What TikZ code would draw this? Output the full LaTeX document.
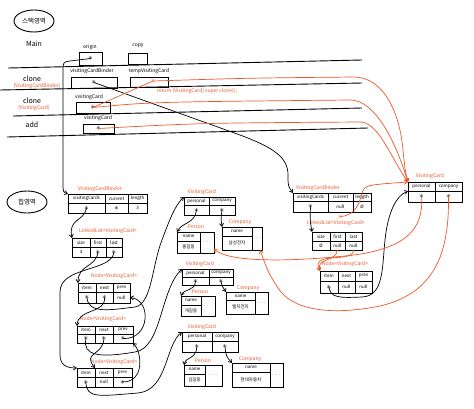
\documentclass[tikz,border=0pt]{standalone}
\usepackage{fontspec}
\setmainfont{Noto Sans CJK KR}
\usetikzlibrary{arrows.meta,shapes.geometric}
\definecolor{orc}{RGB}{236,88,40}
\newcommand\mkcell[6]{\node[cell,minimum width={#4pt-#2pt},minimum height={#5pt-#3pt}] (#1) at ({(#2+#4)/2},{(#3+#5)/2}) {#6};}
\newcommand\pt{{\fontsize{9}{9}\selectfont$\ast$}}
\tikzset{
  cell/.style={draw,line width=0.8pt,inner sep=0pt,outer sep=0pt,font=\fontsize{4.5}{5}\selectfont},
  olab/.style={text=orc,font=\fontsize{5}{6}\selectfont,inner sep=0pt},
  blab/.style={font=\fontsize{5}{6}\selectfont,inner sep=0pt},
  big/.style={font=\fontsize{7}{8}\selectfont,inner sep=0pt},
  xmark/.style={text=orc,font=\fontsize{7}{7}\selectfont,inner sep=0pt},
  region/.style={draw,ellipse,line width=0.9pt,inner sep=0pt,font=\fontsize{6.5}{7}\selectfont},
  frameline/.style={line width=0.9pt},
  ptr/.style={-{Straight Barb[length=3pt,width=4pt]},line width=0.7pt},
  optr/.style={ptr,draw=orc},
}
\begin{document}
\begin{tikzpicture}[x=1pt,y=-1pt]
\useasboundingbox (0,0) rectangle (474,408);
\fill[white] (0,0) rectangle (474,408);

% ---------- stack area ----------
\node[region,minimum width=40pt,minimum height=22pt] (stk) at (34,21) {스택영역};
\node[big] (tmain) at (34,44) {Main};
\coordinate (l1a) at (8,68);  \coordinate (l1b) at (362,60);
\coordinate (l2a) at (0,90);  \coordinate (l2b) at (362,83);
\coordinate (l3a) at (13,116); \coordinate (l3b) at (362,108);
\coordinate (l4a) at (7,137); \coordinate (l4b) at (368,128);
\draw[frameline] (l1a) -- (l1b);
\draw[frameline] (l2a) -- (l2b);
\draw[frameline] (l3a) -- (l3b);
\draw[frameline] (l4a) -- (l4b);

\node[big] (tclone1) at (32,79) {clone};
\node[olab] (tcb) at (37,86.5) {(VisitingCardBinder)};
\node[big] (tclone2) at (32,101) {clone};
\node[olab] (tcv) at (34,108.5) {(VisitingCard)};
\node[big] (tadd) at (32,125) {add};

\node[blab] (torig) at (90,47) {origin};
\node[blab] (tcopy) at (138,46) {copy};
\mkcell{sorig}{79}{52}{102}{65}{\pt}
\mkcell{scopy}{128}{53}{147}{64}{}
\node[blab] (tscb) at (92,71) {visitingCardBinder};
\node[blab] (tstv) at (149,71) {tempVisitingCard};
\mkcell{scb}{71}{77}{117}{88}{\pt}
\mkcell{stv}{130}{77}{168}{87}{}
\node[xmark] (stx) at (153,81) {$\times$};
\node[olab] (tret) at (197,91) {return (VisitingCard) super.clone();};
\node[blab] (tscv) at (89,97) {visitingCard};
\mkcell{scv}{76}{102}{110}{113}{\pt}
\node[blab] (tsav) at (98,118) {visitingCard};
\mkcell{sav}{83}{124}{114}{133}{\pt}

% ---------- heap area ----------
\node[region,minimum width=40pt,minimum height=22pt] (heap) at (27,202) {힙영역};

% binder 1
\node[olab] (b1lab) at (100,189) {VisitingCardBinder};
\mkcell{b1v}{68}{194}{105}{203}{visitingCards}
\mkcell{b1c}{105}{194}{128}{203}{current}
\mkcell{b1l}{128}{194}{147}{203}{length}
\mkcell{b1vv}{68}{203}{105}{213}{\pt}
\mkcell{b1cv}{105}{203}{128}{213}{\pt}
\mkcell{b1lv}{128}{203}{147}{213}{3}

% linked list 1
\node[olab] (l1lab) at (108,231) {LinkedList<VisitingCard>};
\mkcell{l1s}{72}{238}{90}{247}{size}
\mkcell{l1f}{90}{238}{106}{247}{first}
\mkcell{l1l}{106}{238}{122}{247}{last}
\mkcell{l1sv}{72}{247}{90}{257}{3}
\mkcell{l1fv}{90}{247}{106}{257}{\pt}
\mkcell{l1lv}{106}{247}{122}{257}{\pt}

% node 1
\node[olab] (n1lab) at (114,276) {Node<VisitingCard>};
\mkcell{n1i}{78}{283}{96}{292}{item}
\mkcell{n1n}{96}{283}{113}{292}{next}
\mkcell{n1p}{113}{283}{130}{292}{prev}
\mkcell{n1iv}{78}{292}{96}{303}{\pt}
\mkcell{n1nv}{96}{292}{113}{303}{\pt}
\mkcell{n1pv}{113}{292}{130}{303}{null}

% node 2
\node[olab] (n2lab) at (103,319) {Node<VisitingCard>};
\mkcell{n2i}{77}{326}{95}{334}{item}
\mkcell{n2n}{95}{326}{113}{334}{next}
\mkcell{n2p}{113}{326}{133}{334}{prev}
\mkcell{n2iv}{77}{334}{95}{343}{\pt}
\mkcell{n2nv}{95}{334}{113}{343}{\pt}
\mkcell{n2pv}{113}{334}{133}{343}{\pt}

% node 3
\node[olab] (n3lab) at (114,362) {Node<VisitingCard>};
\mkcell{n3i}{77}{368}{95}{377}{item}
\mkcell{n3n}{95}{368}{113}{377}{next}
\mkcell{n3p}{113}{368}{132}{377}{prev}
\mkcell{n3iv}{77}{377}{95}{387}{\pt}
\mkcell{n3nv}{95}{377}{113}{387}{null}
\mkcell{n3pv}{113}{377}{132}{387}{\pt}

% visiting card 1
\node[olab] (vc1lab) at (202,192) {VisitingCard};
\mkcell{vc1p}{184}{197}{209}{205}{personal}
\mkcell{vc1c}{209}{197}{235}{205}{company}
\mkcell{vc1pv}{184}{205}{209}{215}{\pt}
\mkcell{vc1cv}{209}{205}{235}{215}{\pt}
\node[olab] (p1lab) at (196,227) {Person};
\mkcell{p1n}{177}{232}{200}{241}{name}
\mkcell{p1v}{177}{241}{200}{253}{홍길동}
\mkcell{p1d}{200}{232}{214}{253}{$\cdots$}
\node[olab] (c1lab) at (240,222) {Company};
\mkcell{c1n}{222}{227}{252}{236}{name}
\mkcell{c1v}{222}{236}{252}{250}{삼성전자}
\mkcell{c1d}{252}{227}{262}{250}{$\cdots$}

% visiting card 2
\node[olab] (vc2lab) at (200,264) {VisitingCard};
\mkcell{vc2p}{182}{269}{209}{277}{personal}
\mkcell{vc2c}{209}{269}{233}{277}{company}
\mkcell{vc2pv}{182}{277}{209}{285}{\pt}
\mkcell{vc2cv}{209}{277}{233}{285}{\pt}
\node[olab] (p2lab) at (200,292) {Person};
\mkcell{p2n}{181}{296}{201}{305}{name}
\mkcell{p2v}{181}{305}{201}{316}{개길동}
\mkcell{p2d}{201}{296}{215}{316}{$\cdots$}
\node[olab] (c2lab) at (248,288) {Company};
\mkcell{c2n}{226}{292}{255}{300}{name}
\mkcell{c2v}{226}{300}{255}{314}{엘지전자}
\mkcell{c2d}{255}{292}{268}{314}{$\cdots$}

% visiting card 3
\node[olab] (vc3lab) at (202,327) {VisitingCard};
\mkcell{vc3p}{182}{332}{212}{341}{personal}
\mkcell{vc3c}{212}{332}{238}{341}{company}
\mkcell{vc3pv}{182}{341}{212}{352}{\pt}
\mkcell{vc3cv}{212}{341}{238}{352}{\pt}
\node[olab] (p3lab) at (203,361) {Person};
\mkcell{p3n}{184}{365}{205}{374}{name}
\mkcell{p3v}{184}{374}{205}{386}{김길동}
\mkcell{p3d}{205}{365}{222}{386}{$\cdots$}
\node[olab] (c3lab) at (250,359) {Company};
\mkcell{c3n}{232}{363}{270}{372}{name}
\mkcell{c3v}{232}{372}{270}{387}{현대자동차}
\mkcell{c3d}{270}{363}{283}{387}{$\cdots$}

% binder 2
\node[olab] (b2lab) at (318,188) {VisitingCardBinder};
\mkcell{b2v}{293}{193}{328}{201}{visitingCards}
\mkcell{b2c}{328}{193}{353}{201}{current}
\mkcell{b2l}{353}{193}{371}{201}{length}
\mkcell{b2vv}{293}{201}{328}{212}{\pt}
\mkcell{b2cv}{328}{201}{353}{212}{null}
\mkcell{b2lv}{353}{201}{371}{212}{Ø}
\node[xmark] (b2x) at (340,216.5) {$\times$};

% linked list 2
\node[olab] (l2lab) at (336,223) {LinkedList<VisitingCard>};
\mkcell{l2s}{312}{232}{330}{241}{size}
\mkcell{l2f}{330}{232}{345}{241}{first}
\mkcell{l2l}{345}{232}{362}{241}{last}
\mkcell{l2sv}{312}{241}{330}{250}{Ø}
\mkcell{l2fv}{330}{241}{345}{250}{null}
\mkcell{l2lv}{345}{241}{362}{250}{null}

% node R
\node[olab] (nrlab) at (345,264) {Node<VisitingCard>};
\mkcell{nri}{320}{271}{338}{281}{item}
\mkcell{nrn}{338}{271}{355}{281}{next}
\mkcell{nrp}{355}{271}{372}{281}{prev}
\mkcell{nriv}{320}{281}{338}{293}{\pt}
\mkcell{nrnv}{338}{281}{355}{293}{null}
\mkcell{nrpv}{355}{281}{372}{293}{null}

% shared visiting card
\node[olab] (vcslab) at (430,176) {VisitingCard};
\mkcell{vcsp}{408}{182}{435}{191}{personal}
\mkcell{vcsc}{435}{182}{462}{191}{company}
\mkcell{vcspv}{408}{191}{435}{202}{\pt}
\mkcell{vcscv}{435}{191}{462}{202}{\pt}

% ---------- black connectors ----------
\draw[ptr] (sorig.center) -- (70,61) .. controls (63,62) .. (63,72) -- (63,182) .. controls (63,192) .. (b1v.north west);
\draw[ptr] (scb.center) -- (240,135) .. controls (275,148) and (288,158) .. (288,175) .. controls (288,186) .. (b2v.north west);
\draw[ptr] (b1vv.center) .. controls (84,222) and (68,218) .. (l1s.north west);
\draw[ptr] (l1fv.center) .. controls (96,268) and (78,264) .. (n1i.north west);
\draw[ptr] (l1lv.center) .. controls (112,272) and (60,266) .. (60,292) -- (60,355) .. controls (60,366) and (68,368) .. (n3i.north west);
\draw[ptr] (n1iv.center) .. controls (88,314) and (110,310) .. (135,307) .. controls (152,304) and (152,265) .. (162,240) .. controls (170,218) and (176,204) .. (vc1p.north west);
\draw[ptr] (n1nv.center) .. controls (106,314) and (78,308) .. (n2i.north west);
\draw[ptr] (n2pv.center) .. controls (150,340) and (152,300) .. (n1pv.east);
\draw[ptr] (n2iv.center) .. controls (82,356) and (100,358) .. (135,352) .. controls (162,348) and (160,290) .. (vc2p.north west);
\draw[ptr] (n2nv.center) .. controls (103,356) and (82,352) .. (n3n.north west);
\draw[ptr] (n3pv.center) .. controls (145,382) and (142,352) .. (n2pv.south east);
\draw[ptr] (n3iv.center) .. controls (86,399) and (100,396) .. (138,393) .. controls (168,390) and (165,345) .. (vc3p.north west);
\draw[ptr] (vc1pv.center) .. controls (195,224) and (182,222) .. (p1n.north west);
\draw[ptr] (vc1cv.center) .. controls (221,219) .. (c1n.north west);
\draw[ptr] (vc2pv.center) .. controls (195,292) and (184,288) .. (p2n.north west);
\draw[ptr] (vc2cv.center) .. controls (222,286) .. (c2n.north west);
\draw[ptr] (vc3pv.center) .. controls (196,360) and (186,356) .. (p3n.north west);
\draw[ptr] (vc3cv.center) .. controls (226,356) .. (c3n.north west);
\draw[ptr] (b2vv.center) .. controls (310,220) .. (l2s.north west);
\draw[ptr] (nriv.center) .. controls (330,298) and (340,298) .. (362,297) .. controls (384,296) and (382,268) .. (385,240) .. controls (388,212) and (396,196) .. (vcsp.south west);

% ---------- orange connectors ----------
\draw[orc,line width=0.7pt] (stx.center) -- (scv.center);
\draw[optr] (stx.center) .. controls (250,78) .. (355,77) .. controls (385,78) and (400,115) .. (403,150) .. controls (405,170) .. (vcsp.north west);
\draw[optr] (scv.center) .. controls (150,102) .. (350,100) .. controls (375,100) and (395,140) .. (vcsp.north west);
\draw[optr] (sav.center) .. controls (200,123) .. (362,122) .. controls (380,125) and (392,160) .. (vcsp.north west);
\draw[optr] (b2x.center) .. controls (357,216) and (360,200) .. (362,193) .. controls (365,185) .. (vcsp.north west);
\draw[optr] (l2fv.south) .. controls (336,262) and (316,258) .. (nri.north west);
\draw[optr] (l2lv.south) .. controls (354,264) and (310,250) .. (nri.north west);
\draw[optr] (vcspv.center) .. controls (424,230) and (405,250) .. (345,256) .. controls (285,262) and (228,262) .. ([yshift=4pt]p1d.south east);
\draw[optr] (vcscv.center) .. controls (449,245) and (440,292) .. (380,306) .. controls (330,316) and (292,310) .. (278,288) .. controls (268,272) .. ([xshift=-2pt]c1d.south east);
\end{tikzpicture}
\end{document}
